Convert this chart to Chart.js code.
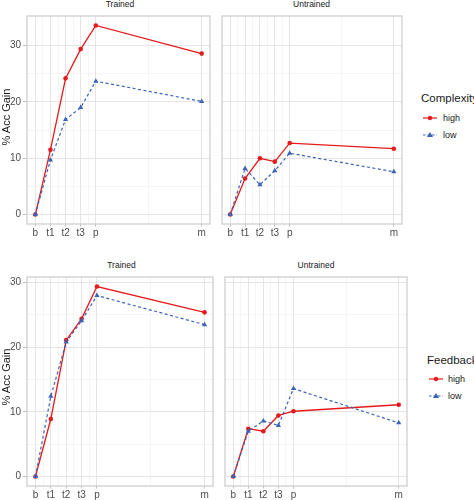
<!DOCTYPE html>
<html><head><meta charset="utf-8">
<script src="https://cdn.jsdelivr.net/npm/chart.js@4/dist/chart.umd.min.js"></script>
<style>
body{margin:0;width:474px;height:500px;background:#fff;position:relative;overflow:hidden;font-family:"Liberation Sans",Arial,sans-serif;}
canvas{position:absolute;}
.t{position:absolute;white-space:nowrap;color:#1a1a1a;line-height:1;}
.strip{font-size:8.5px;transform:translate(-50%,-50%);}
.ytitle{font-size:11px;transform:translate(-50%,-50%) rotate(-90deg);}
.ltitle{font-size:11.5px;transform:translateY(-50%);}
.litem{font-size:9px;transform:translateY(-50%);}
svg{position:absolute;}
</style></head><body>
<canvas id="c1" width="214" height="232" style="left:0;top:12px"></canvas>
<canvas id="c2" width="188" height="232" style="left:218px;top:12px"></canvas>
<canvas id="c3" width="217" height="233" style="left:0;top:273px"></canvas>
<canvas id="c4" width="190" height="233" style="left:221px;top:273px"></canvas>

<div class="t strip" style="left:120px;top:4px">Trained</div>
<div class="t strip" style="left:311.5px;top:4px">Untrained</div>
<div class="t strip" style="left:121.5px;top:265px">Trained</div>
<div class="t strip" style="left:316px;top:265px">Untrained</div>
<div class="t ytitle" style="left:6px;top:117px">% Acc Gain</div>
<div class="t ytitle" style="left:6px;top:377px">% Acc Gain</div>

<div class="t ltitle" style="left:421px;top:99px">Complexity</div>
<svg style="left:421px;top:110px" width="18" height="30">
  <line x1="2" y1="8" x2="16" y2="8" stroke="#E41A1C" stroke-width="1.2"/>
  <circle cx="9" cy="8" r="2.2" fill="#E41A1C"/>
  <line x1="2" y1="25" x2="16" y2="25" stroke="#3A63B8" stroke-width="1.2" stroke-dasharray="2.5,2"/>
  <polygon points="9,22 12,27 6,27" fill="#3A63B8"/>
</svg>
<div class="t litem" style="left:443px;top:118px">high</div>
<div class="t litem" style="left:443px;top:135px">low</div>

<div class="t ltitle" style="left:427px;top:361px">Feedback</div>
<svg style="left:427px;top:371px" width="18" height="30">
  <line x1="2" y1="8" x2="16" y2="8" stroke="#E41A1C" stroke-width="1.2"/>
  <circle cx="9" cy="8" r="2.2" fill="#E41A1C"/>
  <line x1="2" y1="25" x2="16" y2="25" stroke="#3A63B8" stroke-width="1.2" stroke-dasharray="2.5,2"/>
  <polygon points="9,22 12,27 6,27" fill="#3A63B8"/>
</svg>
<div class="t litem" style="left:448px;top:379px">high</div>
<div class="t litem" style="left:448px;top:396px">low</div>

<script>
const xPositions = [0, 1, 2, 3, 4, 11];
const tickLabels = ['b', 't1', 't2', 't3', 'p', 'm'];
const minorX = [0.5, 1.5, 2.5, 3.5, 7.5];

const complexityTrainedHigh   = [0, 11.5, 24.2, 29.4, 33.6, 28.6];
const complexityTrainedLow    = [0, 9.7, 16.9, 19.0, 23.7, 20.1];
const complexityUntrainedHigh = [0, 6.4, 10.0, 9.4, 12.7, 11.7];
const complexityUntrainedLow  = [0, 8.2, 5.3, 7.8, 10.9, 7.6];

const feedbackTrainedHigh   = [0, 8.9, 21.1, 24.4, 29.4, 25.4];
const feedbackTrainedLow    = [0, 12.4, 20.8, 24.1, 28.0, 23.5];
const feedbackUntrainedHigh = [0, 7.4, 7.0, 9.45, 10.1, 11.1];
const feedbackUntrainedLow  = [0, 7.0, 8.6, 7.9, 13.6, 8.3];

const RED = '#E41A1C', BLUE = '#3A63B8';
const FAMILY = '"Liberation Sans", Arial, sans-serif';

function yLimits(arrays){
  const all = arrays.flat();
  const mn = Math.min(...all), mx = Math.max(...all);
  const pad = (mx - mn) * 0.05;
  return [mn - pad, mx + pad];
}
const topLim = yLimits([complexityTrainedHigh, complexityTrainedLow, complexityUntrainedHigh, complexityUntrainedLow]);
const botLim = yLimits([feedbackTrainedHigh, feedbackTrainedLow, feedbackUntrainedHigh, feedbackUntrainedLow]);
const xPad = (xPositions[xPositions.length-1] - xPositions[0]) * 0.05;

const panelBorder = {
  id: 'panelBorder',
  afterDraw(chart){
    const {ctx, chartArea: a} = chart;
    ctx.save();
    ctx.strokeStyle = '#cfcfcf';
    ctx.lineWidth = 1.3;
    ctx.strokeRect(a.left, a.top, a.right - a.left, a.bottom - a.top);
    ctx.restore();
  }
};

function zeroPad(ax){ ax.paddingTop = 0; ax.paddingBottom = 0; ax.paddingLeft = 0; ax.paddingRight = 0; }

function makePanel(id, high, low, lim, showY){
  const allX = xPositions.concat(minorX).sort((a,b)=>a-b);
  new Chart(document.getElementById(id), {
    type: 'line',
    data: {
      datasets: [
        {label: 'low', data: xPositions.map((x,i)=>({x: x, y: low[i]})),
         borderColor: BLUE, backgroundColor: BLUE, borderWidth: 1.2, borderDash: [3, 2.5],
         pointStyle: 'triangle', pointRadius: 3, pointBorderWidth: 0, tension: 0, clip: false},
        {label: 'high', data: xPositions.map((x,i)=>({x: x, y: high[i]})),
         borderColor: RED, backgroundColor: RED, borderWidth: 1.3,
         pointStyle: 'circle', pointRadius: 2.3, pointBorderWidth: 0, tension: 0, clip: false}
      ]
    },
    options: {
      responsive: false, animation: false, events: [],
      layout: {padding: {left: 0, right: 1, top: 0, bottom: 0}},
      plugins: {legend: {display: false}, tooltip: {enabled: false}},
      scales: {
        x: {
          type: 'linear', min: xPositions[0] - xPad, max: xPositions[xPositions.length-1] + xPad,
          afterBuildTicks: ax => { ax.ticks = allX.map(v => ({value: v})); },
          afterFit: ax => { ax.height = 20; zeroPad(ax); },
          ticks: {autoSkip: false, maxRotation: 0, padding: 1, color: '#4d4d4d',
                  font: {size: 10, family: FAMILY},
                  callback: v => { const i = xPositions.indexOf(v); return i >= 0 ? tickLabels[i] : ''; }},
          grid: {
            color: c => xPositions.includes(c.tick.value) ? '#e2e2e2' : '#eeeeee',
            lineWidth: c => xPositions.includes(c.tick.value) ? 0.9 : 0.6,
            tickLength: 2.5,
            tickColor: c => xPositions.includes(c.tick.value) ? '#b8b8b8' : 'rgba(0,0,0,0)'
          },
          border: {display: false}
        },
        y: {
          type: 'linear', min: lim[0], max: lim[1],
          afterBuildTicks: ax => { const t=[]; for (let v=0; v < lim[1]-0.5; v+=5) t.push({value: v}); ax.ticks = t; },
          afterFit: ax => { ax.width = showY ? 27 : 0; zeroPad(ax); },
          ticks: {display: showY, padding: 2, color: '#4d4d4d', font: {size: 10, family: FAMILY},
                  callback: v => (v % 10 === 0 ? String(v) : '')},
          grid: {
            color: c => c.tick.value % 10 === 0 ? '#e2e2e2' : '#eeeeee',
            lineWidth: c => c.tick.value % 10 === 0 ? 0.9 : 0.6,
            drawTicks: showY, tickLength: 4,
            tickColor: c => c.tick.value % 10 === 0 ? '#b8b8b8' : 'rgba(0,0,0,0)'
          },
          border: {display: false}
        }
      }
    },
    plugins: [panelBorder]
  });
}

makePanel('c1', complexityTrainedHigh, complexityTrainedLow, topLim, true);
makePanel('c2', complexityUntrainedHigh, complexityUntrainedLow, topLim, false);
makePanel('c3', feedbackTrainedHigh, feedbackTrainedLow, botLim, true);
makePanel('c4', feedbackUntrainedHigh, feedbackUntrainedLow, botLim, false);
</script>
</body></html>
